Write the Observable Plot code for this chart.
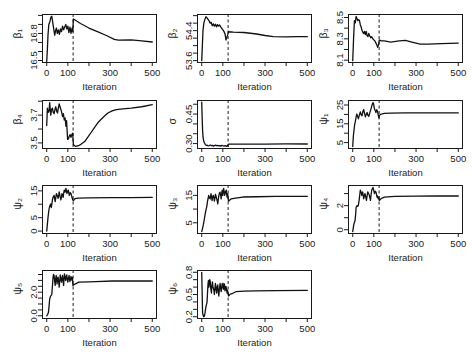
<!DOCTYPE html>
<html><head><meta charset="utf-8">
<script src="https://cdn.jsdelivr.net/npm/d3@7"></script>
<script src="https://cdn.jsdelivr.net/npm/@observablehq/plot@0.6"></script>
<style>
body{margin:0;background:#fff;}
#chart{position:relative;width:474px;height:355px;overflow:hidden;background:#fff;font-family:"Liberation Sans",Arial,Helvetica,sans-serif;}
.cell{position:absolute;}
.cell svg{overflow:visible;max-width:none;}
</style></head><body><div id="chart"></div>
<script>
// ---- shared axis data ----
const xTicks = [0, 100, 200, 300, 400, 500];
const xTickLabels = ["0", "100", "", "300", "", "500"];
const xLabel = "Iteration";
const burnIn = 125;

// ---- beta1 ----
const beta1Iter = [0,3,6,10,15,20,24,28,33,38,42,46,50,55,60,65,70,75,80,85,90,95,100,105,110,115,120,124,126,140,160,200,240,280,320,340,400,450,500];
const beta1Value = [16.49,16.62,16.78,16.9,16.93,16.98,16.99,16.93,16.85,16.78,16.83,16.86,16.8,16.84,16.79,16.85,16.82,16.88,16.84,16.87,16.9,16.85,16.88,16.81,16.87,16.8,16.86,16.82,16.96,16.94,16.91,16.86,16.82,16.78,16.735,16.725,16.728,16.718,16.705];
const beta1Ticks = [16.5,16.6,16.7,16.8,16.9,17.0];
const beta1Labels = ["16.5","","","16.8","",""];

// ---- beta2 ----
const beta2Iter = [0,3,6,10,15,20,25,30,35,40,45,50,55,60,65,70,75,80,85,90,95,100,105,110,115,120,124,126,150,200,260,300,340,400,450,500];
const beta2Value = [53.6,54.0,54.4,54.6,54.7,54.77,54.74,54.7,54.66,54.6,54.62,54.53,54.58,54.52,54.57,54.5,54.56,54.52,54.55,54.5,54.46,54.42,54.38,54.32,54.15,54.24,54.3,54.37,54.36,54.35,54.31,54.27,54.24,54.235,54.24,54.24];
const beta2Ticks = [53.6,53.8,54.0,54.2,54.4,54.6,54.8];
const beta2Labels = ["53.6","","","","54.4","",""];

// ---- beta3 ----
const beta3Iter = [0,4,8,12,16,20,24,28,32,36,40,44,48,52,56,60,64,68,72,76,80,85,90,95,100,105,110,115,118,122,126,135,150,180,220,250,280,320,360,420,500];
const beta3Value = [8.095,8.3,8.47,8.45,8.51,8.49,8.47,8.48,8.47,8.43,8.41,8.38,8.36,8.35,8.37,8.34,8.37,8.33,8.32,8.35,8.33,8.31,8.32,8.3,8.29,8.28,8.26,8.24,8.22,8.24,8.29,8.28,8.28,8.27,8.28,8.285,8.27,8.25,8.25,8.255,8.26];
const beta3Ticks = [8.1,8.2,8.3,8.4,8.5];
const beta3Labels = ["8.1","","8.3","","8.5"];

// ---- beta4 ----
const beta4Iter = [0,3,7,11,14,19,23,27,31,35,39,43,47,51,55,59,63,67,71,75,79,83,87,91,94,99,103,107,111,115,119,123,126,132,138,150,162,180,194,210,226,242,258,275,290,310,330,360,400,450,500];
const beta4Value = [3.625,3.75,3.72,3.73,3.79,3.70,3.74,3.75,3.72,3.71,3.74,3.76,3.73,3.715,3.75,3.78,3.76,3.74,3.72,3.69,3.71,3.665,3.68,3.62,3.66,3.525,3.53,3.55,3.56,3.54,3.56,3.57,3.49,3.48,3.475,3.48,3.49,3.51,3.54,3.575,3.61,3.645,3.67,3.695,3.715,3.73,3.74,3.745,3.75,3.76,3.775];
const beta4Ticks = [3.5,3.6,3.7,3.8];
const beta4Labels = ["3.5","","3.7",""];

// ---- sigma ----
const sigmaIter = [0,2,4,6,9,13,17,21,26,31,36,41,46,51,56,61,66,71,76,81,86,91,96,101,106,111,116,121,124,126,200,300,400,500];
const sigmaValue = [0.51,0.43,0.37,0.335,0.315,0.303,0.296,0.291,0.292,0.288,0.29,0.293,0.289,0.291,0.287,0.29,0.292,0.289,0.291,0.288,0.29,0.287,0.291,0.289,0.287,0.29,0.286,0.289,0.287,0.297,0.297,0.297,0.298,0.298];
const sigmaTicks = [0.30,0.35,0.40,0.45,0.50];
const sigmaLabels = ["0.30","","","0.45",""];

// ---- psi1 ----
const psi1Iter = [0,3,6,9,12,16,19,23,27,31,36,40,44,48,52,56,60,64,68,72,76,80,84,88,92,96,99,103,107,110,114,118,121,124,127,135,150,180,250,350,500];
const psi1Value = [2.9,8.5,11.5,14.5,16,18.5,20.2,19,17.6,19.5,21.3,19.8,19.3,21.5,22.6,20.5,18.7,20,21,19.5,19,20.5,22,23.5,25.2,26.3,25.5,23,22,21,22.5,21.5,19.5,18.2,19.5,20.2,20.6,20.7,20.8,20.8,20.8];
const psi1Ticks = [5,10,15,20,25];
const psi1Labels = ["5","","15","","25"];

// ---- psi2 ----
const psi2Iter = [0,3,6,9,11,15,19,22,25,27,31,35,40,43,46,50,54,57,59,63,67,70,72,75,78,80,83,87,91,96,99,102,105,107,111,115,119,123,126,132,140,150,200,300,400,500];
const psi2Value = [0,2.5,5,7,8.2,9.5,10.1,8.8,10.5,11.7,12.8,13.3,11,12.5,14,13.2,12.2,13.5,14.6,13,11.6,12.8,14,13.2,12.6,14,15.3,14.5,15.9,14,14.8,15.3,14.2,13.3,14.3,14,12.8,11.7,11.3,12,12.2,12.3,12.4,12.5,12.5,12.6];
const psi2Ticks = [0,5,10,15];
const psi2Labels = ["0","5","","15"];

// ---- psi3 ----
const psi3Iter = [0,4,8,12,16,21,24,28,31,33,37,40,44,47,49,52,55,58,60,63,65,68,71,74,76,79,81,84,87,90,92,95,97,100,102,104,107,109,112,116,118,120,123,125,127,133,139,160,195,260,350,500];
const psi3Value = [1.8,3,4.4,6.2,8.1,10,10.9,13.1,14.2,15,14,13.7,15.6,14.2,13.1,14.5,15,14,12.9,14.3,15.4,14.6,13.7,12.8,11.9,13.8,15,15.8,16.2,14.8,13.7,15.8,16.9,15,16.5,17.5,16,15,16.2,16.9,15.5,14.4,15.6,14,12.9,13.3,13.7,14,14.4,14.5,14.6,14.6];
const psi3Ticks = [5,10,15];
const psi3Labels = ["5","","15"];

// ---- psi4 ----
const psi4Iter = [0,3,5,8,11,14,16,19,21,24,27,30,32,34,36,40,43,45,47,50,52,55,58,62,65,68,71,75,79,82,84,87,90,93,96,99,103,106,110,113,115,118,121,124,126,130,134,142,150,200,300,400,500];
const psi4Value = [-0.15,0.2,0.43,0.6,0.77,1.3,1.86,1.95,2.0,1.95,2.08,2.4,2.71,3.0,3.29,3.1,2.86,3.0,3.14,2.8,2.57,2.8,3.0,2.7,2.43,2.8,3.14,3.0,2.86,2.6,2.43,2.9,3.29,3.4,3.51,3.3,3.0,3.2,3.14,2.9,2.71,2.8,2.57,2.7,2.43,2.5,2.57,2.65,2.71,2.76,2.79,2.8,2.8];
const psi4Ticks = [0,1,2,3];
const psi4Labels = ["0","","2",""];

// ---- psi5 ----
const psi5Iter = [0,4,8,11,14,17,19,22,24,27,30,32,35,37,40,42,45,47,49,52,54,57,59,62,64,67,70,72,75,77,80,82,84,87,90,92,95,97,100,103,106,108,110,113,115,118,120,122,124,126,130,136,152,200,232,311,400,500];
const psi5Value = [0,0.1,0.28,0.8,1.42,1.6,1.68,1.75,1.8,2.5,3.28,3.5,3.42,3.0,2.57,3.1,3.42,3.0,2.71,3.2,3.28,2.8,2.43,3.0,3.47,3.1,2.86,3.2,3.42,3.0,2.57,3.1,3.56,3.3,2.99,3.3,3.47,3.1,2.86,3.2,3.42,3.1,2.9,3.2,3.33,3.1,3.0,3.25,2.57,2.6,2.65,2.71,2.86,2.88,2.9,2.95,2.95,2.95];
const psi5Ticks = [0,0.5,1,1.5,2,2.5,3,3.5];
const psi5Labels = ["0.0","","","","2.0","","",""];

// ---- psi6 ----
const psi6Iter = [0,4,9,13,17,21,25,28,30,32,34,36,38,41,43,46,48,51,53,55,58,60,63,65,68,71,73,76,78,81,84,87,89,92,95,97,100,103,105,108,110,112,115,117,120,122,125,127,133,139,150,163,200,258,350,500];
const psi6Value = [0.8,0.25,0.2,0.21,0.28,0.35,0.39,0.55,0.65,0.69,0.6,0.63,0.7,0.67,0.58,0.52,0.6,0.67,0.6,0.59,0.55,0.5,0.6,0.65,0.57,0.52,0.6,0.63,0.55,0.48,0.58,0.65,0.6,0.54,0.6,0.65,0.6,0.57,0.65,0.63,0.55,0.56,0.61,0.58,0.52,0.56,0.52,0.48,0.5,0.51,0.52,0.54,0.545,0.55,0.553,0.555];
const psi6Ticks = [0.2,0.3,0.4,0.5,0.6,0.7,0.8];
const psi6Labels = ["0.2","","","0.5","","","0.8"];

const panelNames = ["β₁","β₂","β₃","β₄","σ","ψ₁","ψ₂","ψ₃","ψ₄","ψ₅","ψ₆"];
const panels = [
  {iter: beta1Iter, value: beta1Value, ticks: beta1Ticks, labels: beta1Labels, domain: [16.478, 17.01]},
  {iter: beta2Iter, value: beta2Value, ticks: beta2Ticks, labels: beta2Labels, domain: [53.55, 54.83]},
  {iter: beta3Iter, value: beta3Value, ticks: beta3Ticks, labels: beta3Labels, domain: [8.078, 8.528]},
  {iter: beta4Iter, value: beta4Value, ticks: beta4Ticks, labels: beta4Labels, domain: [3.46, 3.805]},
  {iter: sigmaIter, value: sigmaValue, ticks: sigmaTicks, labels: sigmaLabels, domain: [0.275, 0.519]},
  {iter: psi1Iter, value: psi1Value, ticks: psi1Ticks, labels: psi1Labels, domain: [1.85, 27.4]},
  {iter: psi2Iter, value: psi2Value, ticks: psi2Ticks, labels: psi2Labels, domain: [-0.9, 17.0]},
  {iter: psi3Iter, value: psi3Value, ticks: psi3Ticks, labels: psi3Labels, domain: [1.1, 18.6]},
  {iter: psi4Iter, value: psi4Value, ticks: psi4Ticks, labels: psi4Labels, domain: [-0.31, 3.67]},
  {iter: psi5Iter, value: psi5Value, ticks: psi5Ticks, labels: psi5Labels, domain: [-0.23, 3.84]},
  {iter: psi6Iter, value: psi6Value, ticks: psi6Ticks, labels: psi6Labels, domain: [0.176, 0.824]}
];

// ---- layout ----
const colLeft = [42, 197, 348];
const rowTop = [14, 100, 185, 270];
const boxW = 114, boxH = 48;
const mL = 40, mR = 16, mT = 6, mB = 40;
const ink = "#1a1a1a";

const chart = document.getElementById("chart");
panels.forEach((p, k) => {
  const r = Math.floor(k / 3), c = k % 3;
  const data = p.iter.map((x, i) => ({x, y: p.value[i]}));
  const svg = Plot.plot({
    width: mL + boxW + mR,
    height: mT + boxH + mB,
    marginLeft: mL, marginRight: mR, marginTop: mT, marginBottom: mB,
    style: {background: "transparent", color: ink, fontFamily: '"Liberation Sans", Arial, sans-serif', fontSize: "9.5px", overflow: "visible"},
    x: {domain: [-20, 520]},
    y: {domain: p.domain},
    marks: [
      Plot.frame({stroke: ink, strokeWidth: 1}),
      Plot.ruleX([burnIn], {stroke: ink, strokeWidth: 1, strokeDasharray: "3,2.5"}),
      Plot.line(data, {x: "x", y: "y", stroke: "#111", strokeWidth: 1.3}),
      Plot.axisX({ticks: xTicks, tickFormat: d => xTickLabels[xTicks.indexOf(d)], tickSize: 4, tickPadding: 2.5, label: null}),
      Plot.axisY({ticks: p.ticks, tickFormat: d => p.labels[p.ticks.indexOf(d)], tickSize: 4, tickPadding: 2, tickRotate: -90, label: null}),
      Plot.text([panelNames[k]], {text: d => d, frameAnchor: "left", dx: -25, rotate: -90, fontSize: 10.5}),
      Plot.text([xLabel], {text: d => d, frameAnchor: "bottom", dy: 27.5, fontSize: 9.5})
    ]
  });
  const cell = document.createElement("div");
  cell.className = "cell";
  cell.style.left = (colLeft[c] - mL) + "px";
  cell.style.top = (rowTop[r] - mT) + "px";
  cell.style.width = (mL + boxW + mR) + "px";
  cell.appendChild(svg);
  chart.appendChild(cell);
});
</script>
</body></html>
